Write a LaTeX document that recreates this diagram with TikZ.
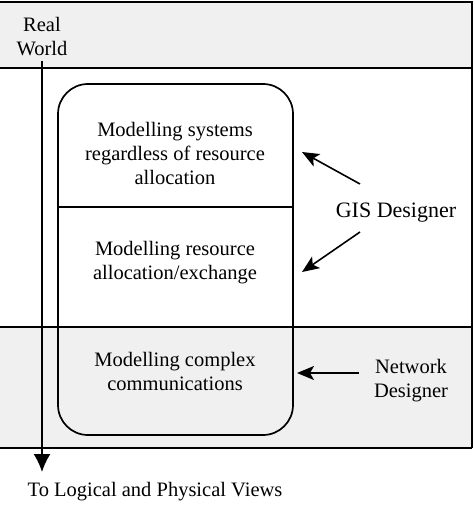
\documentclass[tikz,border=0pt]{standalone}
\usepackage{fontspec}
\setmainfont{Liberation Serif}
\usetikzlibrary{arrows.meta}

\tikzset{
  band/.style={fill=gray!12},
  label/.style={align=center, inner sep=1pt},
  pointer/.style={-{Stealth[length=17pt,width=14pt,inset=4pt]}, line width=1.6pt}
}

\begin{document}
\begin{tikzpicture}[x=1pt, y=-1pt, line width=1.7pt, font=\fontsize{20.5}{24}\selectfont]
  \useasboundingbox (0,0) rectangle (474,513);
  % shaded bands
  \fill[band] (0,2) rectangle (472,68);
  \fill[band] (0,327) rectangle (472,448);
  \draw (0,2) -- (472,2) -- (472,448);
  \draw (0,68) -- (472,68);
  \draw (0,327) -- (472,327);
  \draw (0,448) -- (472,448);
  % the modelling box
  \draw[rounded corners=30pt] (58,84) rectangle (293,435);
  \draw (58,207) -- (293,207);
  \node[label] (systems) at (175,153) {Modelling systems\\regardless of resource\\allocation};
  \node[label] (resource) at (175,263) {Modelling resource\\allocation/exchange};
  \node[label] (complex) at (175,371) {Modelling complex\\communications};
  % designers
  \node[label, font=\fontsize{22}{26}\selectfont] (gis) at (396,213) {GIS Designer};
  \node[label] (network) at (411,381) {Network\\Designer};
  \coordinate (gisA) at (360,184);
  \coordinate (gisB) at (360,232);
  \coordinate (netA) at (359,373);
  \draw[pointer] (gisA) -- (302,152);
  \draw[pointer] (gisB) -- (302,272);
  \draw[pointer] (netA) -- (297,373);
  % real world flow
  \node[label] (real) at (42,37) {Real\\World};
  \node[label] (views) at (155,492) {To Logical and Physical Views};
  \coordinate (down) at (42,472);
  \draw[-{Latex[length=18pt,width=17pt]}] ([yshift=-3pt]real.south) -- (down);
\end{tikzpicture}
\end{document}
